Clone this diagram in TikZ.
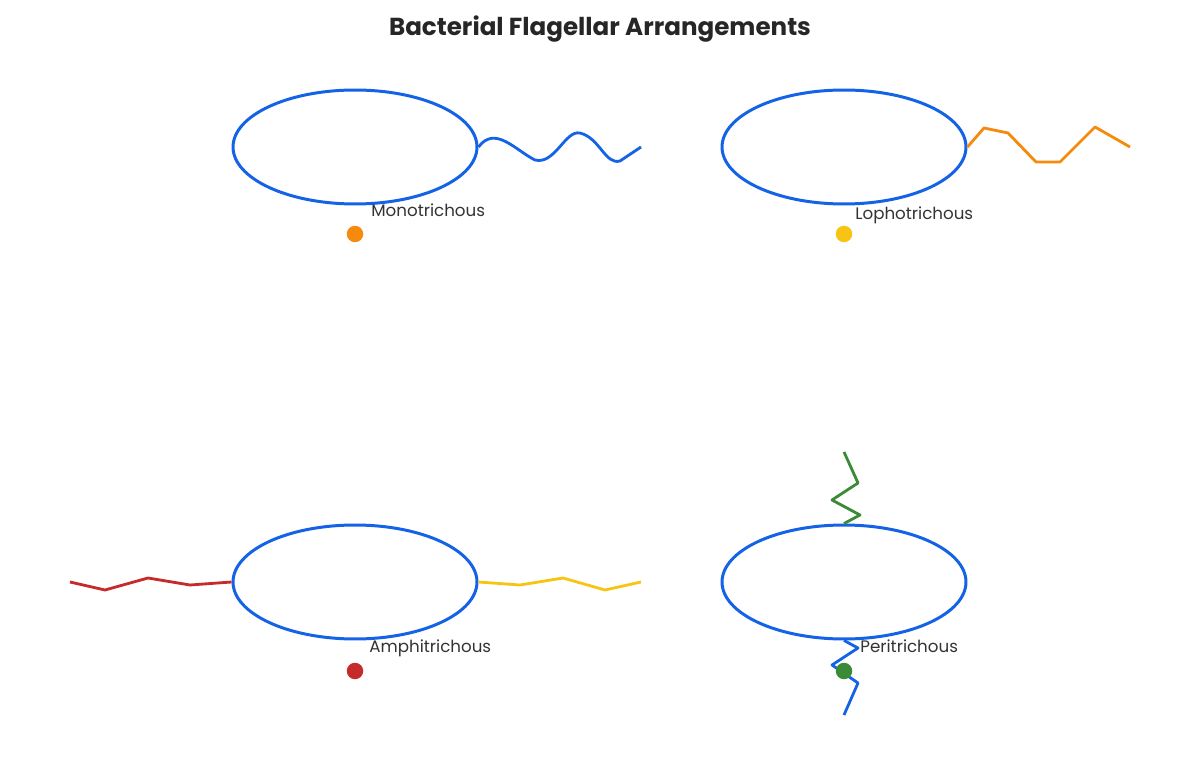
\documentclass[tikz,border=0pt]{standalone}
\usepackage{fontspec}
\setmainfont{Poppins}
\usetikzlibrary{shapes.geometric}
\definecolor{cellblue}{HTML}{1463E6}
\definecolor{flagorange}{HTML}{F68A0C}
\definecolor{flagyellow}{HTML}{F7C414}
\definecolor{flagred}{HTML}{C62B2B}
\definecolor{flaggreen}{HTML}{3B8A36}
\tikzset{
  cell/.style={draw=cellblue, line width=1.7pt, ellipse, minimum width=4.88cm, minimum height=2.28cm, inner sep=0pt},
  flag/.style={line width=1.6pt, line join=round},
  dot/.style={circle, inner sep=0pt, minimum size=0.33cm},
  lab/.style={anchor=west, font=\fontsize{9.5}{11}\selectfont, text=black!80, inner sep=0pt}
}
\begin{document}
\begin{tikzpicture}[x=0.02cm, y=-0.02cm]
    \useasboundingbox (0,0) rectangle (1200,763);

    \node[font=\bfseries\fontsize{14}{16}\selectfont, text=black!85] (title) at (600,29) {Bacterial Flagellar Arrangements};

    \node[cell] (mono) at (355,147) {};
    \node[cell] (lopho) at (844,147) {};
    \node[cell] (amphi) at (355,582) {};
    \node[cell] (peri) at (844,582) {};

    \draw[flag, cellblue] (mono.east) .. controls (495,125) and (515,150) .. (535,160)
        .. controls (555,165) and (565,130) .. (580,133)
        .. controls (600,138) and (605,165) .. (620,161) -- (641,147);
    \draw[flag, flagorange] (lopho.east) -- (984,128) -- (1008,133) -- (1036,162) -- (1060,162) -- (1095,127) -- (1130,147);
    \draw[flag, flagred] (amphi.west) -- (190,585) -- (148,578) -- (105,590) -- (70,582);
    \draw[flag, flagyellow] (amphi.east) -- (520,585) -- (563,578) -- (605,590) -- (641,582);
    \draw[flag, flaggreen] (peri.north) -- (860,515) -- (832,500) -- (858,483) -- (844,452);
    \draw[flag, cellblue] (peri.south) -- (858,648) -- (832,665) -- (858,683) -- (844,715);

    \node[dot, fill=flagorange] (monodot) at (355,234) {};
    \node[dot, fill=flagyellow] (lophodot) at (844,234) {};
    \node[dot, fill=flagred] (amphidot) at (355,671) {};
    \node[dot, fill=flaggreen] (peridot) at (844,671) {};

    \node[lab] (monolab) at (371,210) {Monotrichous};
    \node[lab] (lopholab) at (855,215) {Lophotrichous};
    \node[lab] (amphilab) at (369,648) {Amphitrichous};
    \node[lab] (perilab) at (860,646) {Peritrichous};
\end{tikzpicture}
\end{document}
